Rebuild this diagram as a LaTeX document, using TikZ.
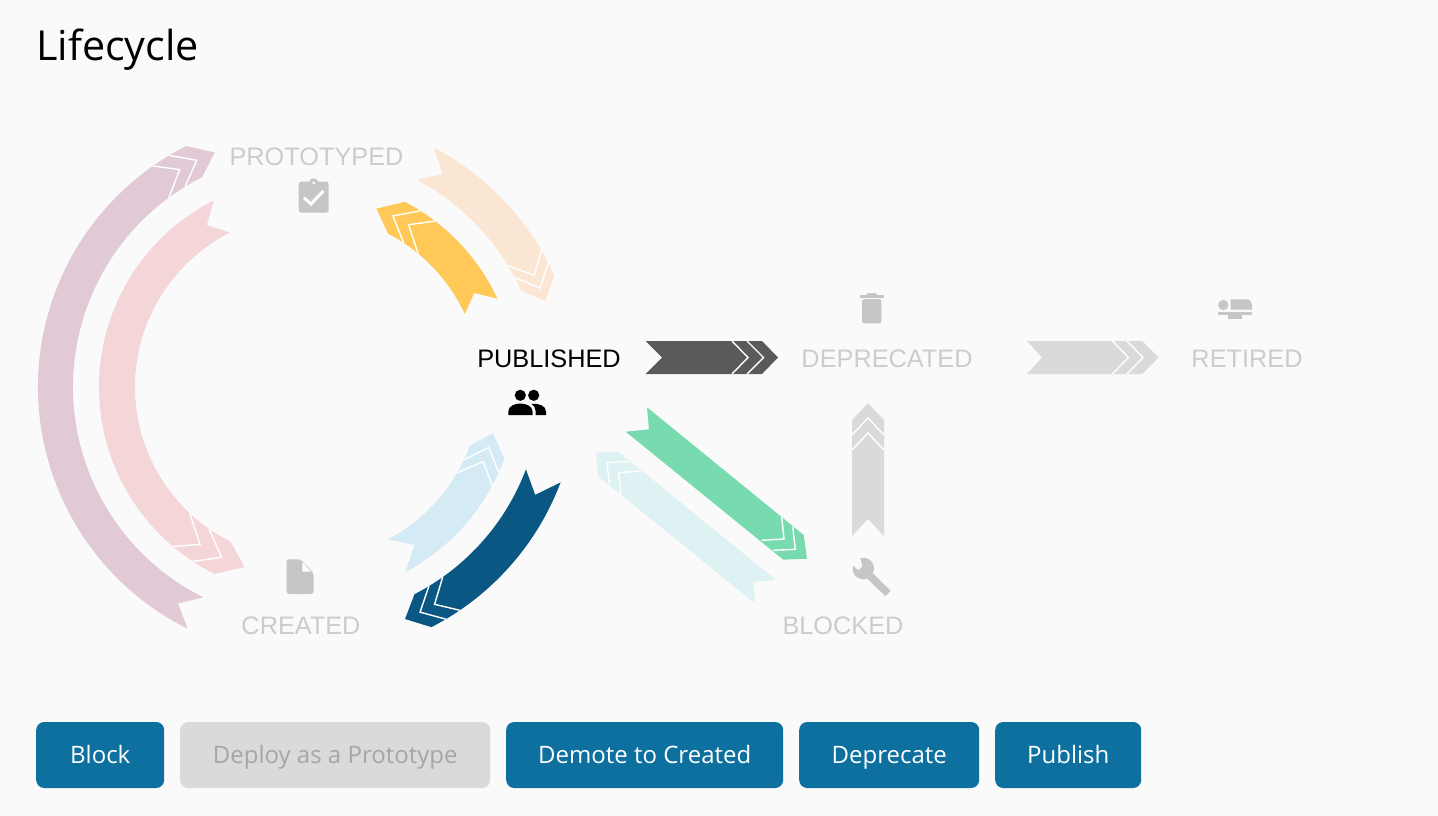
\documentclass[tikz,border=0pt]{standalone}
\usepackage{fontspec}
\setmainfont{Open Sans}
\newfontfamily\labelfont{Liberation Sans}
\definecolor{bg}{HTML}{FAFAFA}
\definecolor{plum}{HTML}{E1CAD5}
\definecolor{pinkish}{HTML}{F4D6D9}
\definecolor{peach}{HTML}{FAE6D3}
\definecolor{gold}{HTML}{FFC857}
\definecolor{skyblue}{HTML}{D4EBF5}
\definecolor{deepblue}{HTML}{095782}
\definecolor{mint}{HTML}{78DBB0}
\definecolor{paleteal}{HTML}{DEF1F3}
\definecolor{lightgrey}{HTML}{DADADA}
\definecolor{darkgrey}{HTML}{5A5A5A}
\definecolor{iconlabel}{HTML}{C6C6C6}
\definecolor{statetext}{HTML}{CCCCCC}
\definecolor{btnblue}{HTML}{0D709F}
\definecolor{btnoff}{HTML}{DADADA}
\definecolor{btnofftext}{HTML}{A6A6A6}
\tikzset{
  statelabel/.style={font=\labelfont\fontsize{25.3}{25.3}\selectfont,text=statetext,anchor=base,inner sep=0pt},
  actionbtn/.style={fill=btnblue,text=white,rounded corners=8pt,minimum height=66pt,inner sep=0pt,anchor=west,
    font=\fontsize{24}{24}\selectfont,text height=21pt,text depth=4pt},
  offbtn/.style={actionbtn,fill=btnoff,text=btnofftext},
  chev/.style={draw=white,line width=1.4pt,line join=miter},
  iconfill/.style={fill=iconlabel,draw=none}
}
% col, Ri, Ro, tail angle, head angle, tip depth, notch depth (degrees), chevron step (px of arc)
\newcommand{\ringarrow}[8]{%
  \pgfmathsetmacro\Rmid{(#2+#3)/2}%
  \pgfmathsetmacro\sgn{(#5>#4)?1:-1}%
  \pgfmathsetmacro\tipA{#5+\sgn*#6}%
  \pgfmathsetmacro\notchA{#4+\sgn*#7}%
  \fill[#1] (#4:#3) arc[start angle=#4,end angle=#5,radius=#3] -- (\tipA:\Rmid) -- (#5:#2)
     arc[start angle=#5,end angle=#4,radius=#2] -- (\notchA:\Rmid) -- cycle;
  \foreach \k in {1,2}{%
    \pgfmathsetmacro\endO{#5-\sgn*\k*#8/#3*57.3}%
    \pgfmathsetmacro\endI{#5-\sgn*\k*#8/#2*57.3}%
    \pgfmathsetmacro\apexA{#5+\sgn*#6-\sgn*\k*#8/\Rmid*57.3}%
    \draw[chev] (\endO:#3) -- (\apexA:\Rmid) -- (\endI:#2);
  }%
}
\begin{document}
\begin{tikzpicture}[x=1pt,y=-1pt]
\fill[bg] (0,0) rectangle (1438,816);
\useasboundingbox (0,0) rectangle (1438,816);

\node[anchor=base west,inner sep=0pt,font=\fontsize{41.3}{41.3}\selectfont] (title) at (36,60) {Lifecycle};

% curved transitions
\begin{scope}[shift={(308,387)}]
  \ringarrow{plum}{235}{270}{116.5}{243.2}{5.1}{4.5}{19.5}
  \ringarrow{pinkish}{173}{209}{243.2}{116.6}{7.2}{5.2}{25}
  \ringarrow{peach}{234}{270.5}{-62.3}{-24.4}{4.5}{4.6}{14}
  \ringarrow{gold}{173}{209}{-25}{-62.4}{6.6}{4.5}{18}
  \ringarrow{skyblue}{172}{209}{62.2}{20}{6}{6.2}{15}
  \ringarrow{deepblue}{233}{270}{20.7}{62.8}{4.5}{4.7}{16.5}
\end{scope}

% straight transitions
\fill[mint] (647,407.3) -- (803.7,535) -- (807,558.7) -- (783.3,559.7) -- (625.7,431.7) -- (649,429.3) -- cycle;
\draw[chev] (781.7,516.7) -- (784,539) -- (761.7,540.3);
\draw[chev] (792.7,526.7) -- (795.3,549.3) -- (773,550.3);

\fill[paleteal] (618.3,451.7) -- (596,452.7) -- (598,476) -- (755.3,603.7) -- (753.3,582) -- (775.7,579.7) -- cycle;
\draw[chev] (629.3,461.3) -- (607,462.7) -- (609.3,484);
\draw[chev] (640.7,471) -- (618.7,472.7) -- (620.7,494);

\fill[darkgrey] (645.5,341) -- (762,341) -- (778,357.5) -- (762,374) -- (645.5,374) -- (662,357.5) -- cycle;
\draw[chev] (732,341) -- (748,357.5) -- (732,374);
\draw[chev] (747,341) -- (763.5,357.5) -- (747,374);

\fill[lightgrey] (1027,341) -- (1142,341) -- (1158.6,357.5) -- (1142,374) -- (1027,374) -- (1042,357.5) -- cycle;
\draw[chev] (1112.4,341) -- (1128.4,357.5) -- (1112.4,374);
\draw[chev] (1127,341) -- (1143,357.5) -- (1127,374);

\fill[lightgrey] (868,403.3) -- (884,420) -- (884,536) -- (868,519) -- (852,536) -- (852,420) -- cycle;
\draw[chev] (852,435) -- (868,418) -- (884,435);
\draw[chev] (852,450) -- (868,433) -- (884,450);

% state labels
\node[statelabel] (prototyped) at (316.5,165.5) {PROTOTYPED};
\node[statelabel,text=black] (published) at (549,367) {PUBLISHED};
\node[statelabel] (deprecated) at (887,367) {DEPRECATED};
\node[statelabel] (retired) at (1247,367) {RETIRED};
\node[statelabel] (created) at (301,634) {CREATED};
\node[statelabel] (blocked) at (843,634) {BLOCKED};

% clipboard icon
\fill[iconfill,rounded corners=2.5pt] (298.7,181.7) rectangle (328.7,212.5);
\fill[iconfill] (313.7,183.3) circle[radius=5];
\fill[bg] (313.7,183) circle[radius=1.6];
\draw[white,line width=3pt] (304,197.7) -- (311,204) -- (323.3,191);

% people icon
\fill[black] (520.3,395.3) circle[radius=5.6];
\fill[black] (533.7,395.3) circle[radius=5.6];
\fill[black] (508.3,415) -- (508.3,411.5) .. controls (508.3,405.5) and (516,403.5) .. (520.3,403.5)
   .. controls (525,403.5) and (532.5,405.5) .. (532.5,411.5) -- (532.5,415) -- cycle;
\fill[black] (535.5,415) -- (535.5,410.5) .. controls (535.5,407.5) and (533.5,405) .. (531.5,404)
   .. controls (538,403) and (546,405.5) .. (546,411.5) -- (546,415) -- cycle;

% trash icon
\fill[iconfill] (860,294.8) rectangle (883.5,298);
\fill[iconfill] (866.5,295) -- (867.5,293) -- (876,293) -- (877,295) -- cycle;
\fill[iconfill,rounded corners=2pt] (862,299.2) rectangle (881.4,323.3);

% bed icon
\fill[iconfill] (1223.3,305) circle[radius=5.2];
\fill[iconfill] (1230.7,309.5) -- (1230.7,299.3) -- (1246,299.3) .. controls (1250,299.3) and (1252,302) .. (1252,305) -- (1252,309.5) -- cycle;
\fill[iconfill] (1218,311.8) rectangle (1252,315.3);
\fill[iconfill] (1228.3,315.3) rectangle (1242.3,318.5);

% file icon
\fill[iconfill,rounded corners=2.5pt] (286.7,559.3) -- (300.5,559.3) -- (313.5,573) -- (313.5,594) -- (286.7,594) -- cycle;
\fill[white] (302.3,561.8) -- (302.3,571.7) -- (310.8,571.7) -- cycle;

% wrench icon
\draw[iconlabel,line width=7.6pt] (866,572) -- (888,593.5);
\fill[iconfill] (863.3,568.5) circle[radius=10.8];
\fill[bg] (859.5,555) -- (862.3,566.5) -- (858.3,570) -- (848,561.5) -- cycle;

% action buttons
\node[actionbtn,minimum width=128pt] (btnblock) at (36,755) {Block};
\node[offbtn,minimum width=310pt] (btndeploy) at (180,755) {Deploy as a Prototype};
\node[actionbtn,minimum width=277pt] (btndemote) at (506,755) {Demote to Created};
\node[actionbtn,minimum width=180pt] (btndeprecate) at (799,755) {Deprecate};
\node[actionbtn,minimum width=146pt] (btnpublish) at (995,755) {Publish};
\end{tikzpicture}
\end{document}
